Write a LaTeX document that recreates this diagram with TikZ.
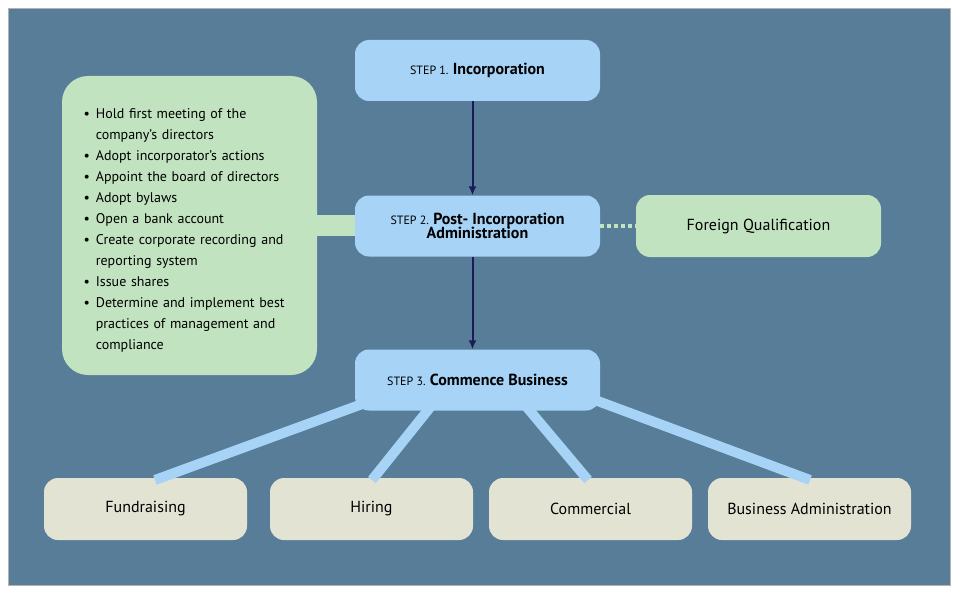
\documentclass[tikz,border=0pt]{standalone}
\usepackage{fontspec}
\setmainfont{PT Sans}
\begin{document}
\begin{tikzpicture}[x=1pt,y=-1pt,
  stepbox/.style={draw=none,fill=stepc,rounded corners=14pt,minimum width=245pt,minimum height=61pt,align=center,inner sep=2pt},
  bot/.style={draw=none,fill=botc,rounded corners=14pt,minimum width=203pt,minimum height=62pt,font=\fontsize{16}{19}\selectfont},
  link/.style={line width=10pt,draw=stepc},
  arr/.style={line width=2pt,draw=navy,-{Latex[length=9pt,width=8pt]}}]
\usetikzlibrary{arrows.meta}
\definecolor{bg}{HTML}{577D98}
\definecolor{stepc}{HTML}{A6D3F6}
\definecolor{greenc}{HTML}{C2E3C0}
\definecolor{botc}{HTML}{E3E3D4}
\definecolor{navy}{HTML}{1B1B5A}
\useasboundingbox (0,0) rectangle (958,591);
\fill[white] (0,0) rectangle (958,591);
\draw[fill=bg,draw=gray!60] (8,8) rectangle (950,585);
% bottom links
\node[bot] (f) at (145.5,509) {Fundraising};
\node[bot] (h) at (371.5,509) {Hiring};
\node[bot] (c) at (590.5,509) {Commercial};
\node[bot] (b) at (809.5,509) {Business Administration};
\coordinate (s3a) at (365,403);
\coordinate (s3b) at (432,405);
\coordinate (s3c) at (525,405);
\coordinate (s3d) at (595,400);
\draw[link] (s3a) -- (155,480);
\draw[link] (s3b) -- (372,480);
\draw[link] (s3c) -- (588,480);
\draw[link] (s3d) -- (810,480);
% green box
\node[draw=none,fill=greenc,rounded corners=26pt,minimum width=255pt,minimum height=299pt] (g) at (189.5,225.5) {};
\fill[greenc] (316,215) rectangle (358,236);
\node[anchor=north west,align=left,font=\fontsize{14}{21}\selectfont,text width=215pt] (gl) at (80,100)
{\begin{tabular}{@{}l@{\hspace{6pt}}l@{}}
\textbullet & Hold first meeting of the\\ & company’s directors\\
\textbullet & Adopt incorporator’s actions\\
\textbullet & Appoint the board of directors\\
\textbullet & Adopt bylaws\\
\textbullet & Open a bank account\\
\textbullet & Create corporate recording and\\ & reporting system\\
\textbullet & Issue shares\\
\textbullet & Determine and implement best\\ & practices of management and\\ & compliance
\end{tabular}};
\node[stepbox] (s1) at (477.5,70.5) {{\fontsize{12}{14}\selectfont STEP 1. }{\fontsize{16}{19}\selectfont\bfseries Incorporation}};
\node[stepbox] (s2) at (477.5,226) {{\fontsize{12}{14}\selectfont STEP 2. }{\fontsize{16}{19}\selectfont\bfseries Post- Incorporation}\\[-1pt]{\fontsize{16}{19}\selectfont\bfseries Administration}};
\node[stepbox] (s3) at (477.5,380) {{\fontsize{12}{14}\selectfont STEP 3. }{\fontsize{16}{19}\selectfont\bfseries Commence Business}};
\node[draw=none,fill=greenc,rounded corners=14pt,minimum width=245pt,minimum height=62pt,font=\fontsize{16}{19}\selectfont] (fq) at (758.5,226) {Foreign Qualification};
\draw[line width=3.5pt,draw=greenc,dash pattern=on 4pt off 3pt] (s2.east) -- (fq.west);
\draw[arr] ([xshift=-5pt]s1.south) -- ([xshift=-5pt]s2.north);
\draw[arr] ([xshift=-5pt]s2.south) -- ([xshift=-5pt]s3.north);
\end{tikzpicture}
\end{document}
